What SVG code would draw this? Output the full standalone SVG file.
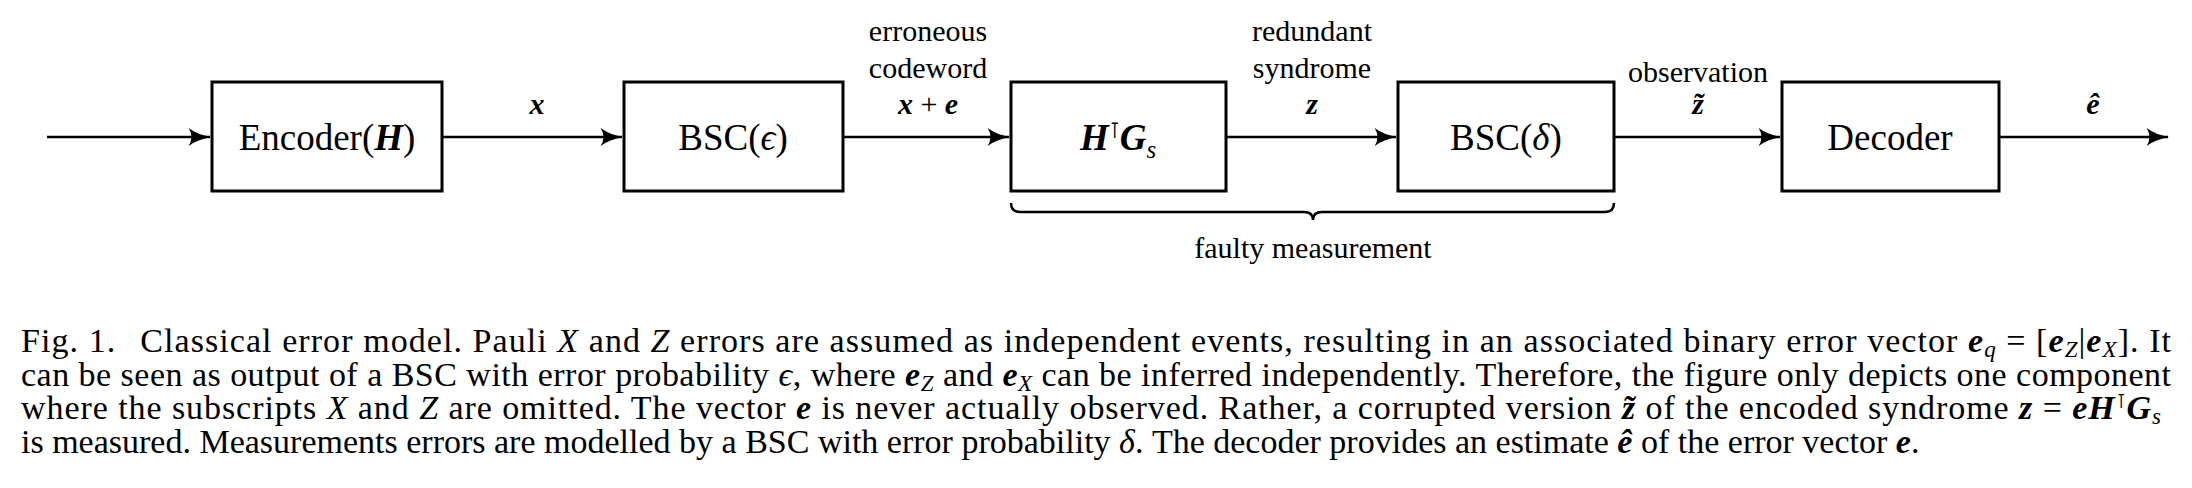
<svg xmlns="http://www.w3.org/2000/svg" width="2192" height="488" viewBox="0 0 2192 488">
<style>
.box{fill:#fff;stroke:#000;stroke-width:3}
.ln{stroke:#000;stroke-width:2.5;fill:none}
text{font-family:"Liberation Serif","DejaVu Serif",serif;fill:#000}
.bt{font-size:37px;text-anchor:middle}
.lb{font-size:30px;text-anchor:middle}
.cap{font-size:34px}
.m{font-style:italic}
.v{font-style:italic;font-weight:bold}
</style>
<defs>
<marker id="a" viewBox="0 0 20 16" markerWidth="24" markerHeight="18" refX="19" refY="8" orient="auto" markerUnits="userSpaceOnUse"><path d="M0,0 Q8,6 20,8 Q8,10 0,16 Q5,8 0,0 Z" fill="#000"/></marker>
</defs>
<g id="connectors">
<line class="ln" x1="47" y1="137" x2="210" y2="137" marker-end="url(#a)"/>
<line class="ln" x1="442" y1="137" x2="622" y2="137" marker-end="url(#a)"/>
<line class="ln" x1="843" y1="137" x2="1009" y2="137" marker-end="url(#a)"/>
<line class="ln" x1="1226" y1="137" x2="1396" y2="137" marker-end="url(#a)"/>
<line class="ln" x1="1614" y1="137" x2="1780" y2="137" marker-end="url(#a)"/>
<line class="ln" x1="1999" y1="137" x2="2168" y2="137" marker-end="url(#a)"/>
<text class="lb v" x="537" y="114">x</text>
<text class="lb" x="928" y="41">erroneous</text>
<text class="lb" x="928" y="78">codeword</text>
<text class="lb" x="928" y="114"><tspan class="v">x</tspan> + <tspan class="v">e</tspan></text>
<text class="lb" x="1312" y="41">redundant</text>
<text class="lb" x="1312" y="78">syndrome</text>
<text class="lb v" x="1312" y="114">z</text>
<text class="lb" x="1698" y="82">observation</text>
<text class="lb v" x="1698" y="114">z̃</text>
<text class="lb v" x="2093" y="114">ê</text>
</g>
<g id="encoder"><rect class="box" x="212" y="82" width="230" height="109"/><text class="bt" x="327" y="150">Encoder(<tspan class="v">H</tspan>)</text></g>
<g id="bsc1"><rect class="box" x="624" y="82" width="219" height="109"/><text class="bt" x="733" y="150">BSC(<tspan class="m">ϵ</tspan>)</text></g>
<g id="htgs"><rect class="box" x="1011" y="82" width="215" height="109"/><text class="bt" x="1118" y="150"><tspan class="v">H</tspan><tspan font-size="22" dy="-12">⊺</tspan><tspan class="v" dy="12">G</tspan><tspan class="m" font-size="25" dy="8">s</tspan></text></g>
<g id="bsc2"><rect class="box" x="1398" y="82" width="216" height="109"/><text class="bt" x="1506" y="150">BSC(<tspan class="m">δ</tspan>)</text></g>
<g id="decoder"><rect class="box" x="1782" y="82" width="217" height="109"/><text class="bt" x="1890" y="150">Decoder</text></g>
<g id="brace">
<path class="ln" d="M1011,203 Q1011,212 1020,212 L1304,212 Q1313,212 1313,220 Q1313,212 1322,212 L1605,212 Q1614,212 1614,203"/>
<text class="lb" x="1313" y="258">faulty measurement</text>
</g>
<g id="caption" class="cap">
<text x="21" y="352" textLength="2150" lengthAdjust="spacing">Fig. 1.<tspan dx="24">Classical error model. Pauli </tspan><tspan class="m">X</tspan> and <tspan class="m">Z</tspan> errors are assumed as independent events, resulting in an associated binary error vector <tspan class="v">e</tspan><tspan class="m" font-size="23" dy="5">q</tspan><tspan dy="-5"> = [</tspan><tspan class="v">e</tspan><tspan class="m" font-size="23" dy="5">Z</tspan><tspan dy="-5">|</tspan><tspan class="v">e</tspan><tspan class="m" font-size="23" dy="5">X</tspan><tspan dy="-5">]. It</tspan></text>
<text x="21" y="386" textLength="2150" lengthAdjust="spacing">can be seen as output of a BSC with error probability <tspan class="m">ϵ</tspan>, where <tspan class="v">e</tspan><tspan class="m" font-size="23" dy="5">Z</tspan><tspan dy="-5"> and </tspan><tspan class="v">e</tspan><tspan class="m" font-size="23" dy="5">X</tspan><tspan dy="-5"> can be inferred independently. Therefore, the figure only depicts one component</tspan></text>
<text x="21" y="419" textLength="2140" lengthAdjust="spacing">where the subscripts <tspan class="m">X</tspan> and <tspan class="m">Z</tspan> are omitted. The vector <tspan class="v">e</tspan> is never actually observed. Rather, a corrupted version <tspan class="v">z̃</tspan> of the encoded syndrome <tspan class="v">z</tspan> = <tspan class="v">eH</tspan><tspan font-size="20" dy="-11">⊺</tspan><tspan class="v" dy="11">G</tspan><tspan class="m" font-size="23" dy="5">s</tspan></text>
<text x="21" y="453">is measured. Measurements errors are modelled by a BSC with error probability <tspan class="m">δ</tspan>. The decoder provides an estimate <tspan class="v">ê</tspan> of the error vector <tspan class="v">e</tspan>.</text>
</g>
</svg>
